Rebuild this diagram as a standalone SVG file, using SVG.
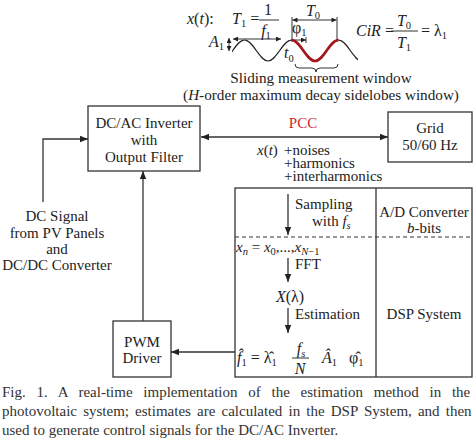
<svg xmlns="http://www.w3.org/2000/svg" width="474" height="444" viewBox="0 0 474 444" font-family="'Liberation Serif', 'Times New Roman', Tinos, 'DejaVu Serif', serif">
<style>
text{font-family:'Liberation Serif','Times New Roman',Tinos,'DejaVu Serif',serif;fill:#222;font-size:15px}
.c{text-anchor:middle}
.i{font-style:italic}
.s{font-size:10.5px}
.m{font-size:16px}
.ln{fill:none;stroke:#333;stroke-width:1.3}
.bx{fill:#fff;stroke:#333;stroke-width:1.3}
.thin{fill:none;stroke:#333;stroke-width:1}
.cap{font-size:15px;fill:#333}
</style>
<defs>
<marker id="ah" viewBox="0 0 10 10" refX="10" refY="5" markerWidth="9" markerHeight="8" markerUnits="userSpaceOnUse" orient="auto-start-reverse"><path d="M0,1 L10,5 L0,9 z" fill="#222"/></marker>
<marker id="sa" viewBox="0 0 10 10" refX="10" refY="5" markerWidth="6" markerHeight="5" markerUnits="userSpaceOnUse" orient="auto-start-reverse"><path d="M0,0 L10,5 L0,10 z" fill="#222"/></marker>
<clipPath id="wc"><rect x="232" y="30" width="126" height="40"/></clipPath>
</defs>

<g id="signal-sketch">
<text x="187" y="24" class="m"><tspan class="i">x</tspan>(<tspan class="i">t</tspan>):</text>
<text x="232" y="24" class="m"><tspan class="i">T</tspan><tspan class="s" dy="3">1</tspan><tspan dy="-3"> =</tspan></text>
<text x="268" y="15" class="m c">1</text>
<line x1="259" y1="20" x2="279" y2="20" class="thin"/>
<text x="266" y="36" class="m c"><tspan class="i">f</tspan><tspan class="s" dy="3">1</tspan></text>
<text x="313" y="16" class="m c"><tspan class="i">T</tspan><tspan class="s" dy="3">0</tspan></text>
<line x1="292" y1="17" x2="292" y2="42" class="thin"/>
<line x1="337" y1="17" x2="337" y2="42" class="thin"/>
<line x1="292.5" y1="20" x2="336.5" y2="20" class="thin" marker-start="url(#sa)" marker-end="url(#sa)"/>
<text x="292" y="33" class="m">φ<tspan class="s" dy="3">1</tspan></text>
<line x1="292.5" y1="40" x2="306" y2="40" class="thin" marker-end="url(#sa)"/>
<line x1="306" y1="37" x2="306" y2="43" class="thin"/>
<line x1="233" y1="39" x2="281" y2="39" class="thin" marker-start="url(#sa)" marker-end="url(#sa)"/>
<text x="209" y="47" class="m"><tspan class="i">A</tspan><tspan class="s" dy="3">1</tspan></text>
<line x1="229" y1="38" x2="229" y2="51" class="thin" marker-start="url(#sa)" marker-end="url(#sa)"/>
<path d="M221,61 C229.54,61 235.96,40 244.5,40 C253.04,40 259.46,61 268,61 C276.54,61 282.96,40 291.5,40 C300.04,40 306.46,61 315,61 C323.54,61 329.96,40 338.5,40 C347.04,40 353.46,61 362,61" fill="none" stroke="#222" stroke-width="1.2" clip-path="url(#wc)"/>
<path d="M291.5,40 C300.04,40 306.46,61 315,61 C323.54,61 329.96,40 338.5,40" fill="none" stroke="#a3161c" stroke-width="2.6"/>
<text x="284" y="58" class="m"><tspan class="i">t</tspan><tspan class="s" dy="4">0</tspan></text>
<path d="M295,64 Q295,68 299,68 L312,68 Q316,68 316,72 Q316,68 320,68 L334,68 Q338,68 338,64" class="thin"/>
<text x="356" y="36" class="m"><tspan class="i">CiR</tspan> =</text>
<text x="404" y="26" class="m c"><tspan class="i">T</tspan><tspan class="s" dy="3">0</tspan></text>
<line x1="391" y1="31" x2="418" y2="31" class="thin"/>
<text x="404" y="48" class="m c"><tspan class="i">T</tspan><tspan class="s" dy="3">1</tspan></text>
<text x="421" y="36" class="m">= λ<tspan class="s" dy="3">1</tspan></text>
<text x="321" y="83" class="c" style="font-size:15.2px">Sliding measurement window</text>
<text x="321" y="100" class="c" style="font-size:15.2px">(<tspan class="i">H</tspan>-order maximum decay sidelobes window)</text>
</g>

<g id="connectors">
<line x1="201" y1="137" x2="388" y2="137" class="ln" marker-start="url(#ah)" marker-end="url(#ah)"/>
<path d="M43,202 V139 H88" class="ln" marker-end="url(#ah)"/>
<path d="M143,321 V171" class="ln" marker-end="url(#ah)"/>
<path d="M235,352 H171" class="ln" marker-end="url(#ah)"/>
</g>

<g id="dcac-inverter">
<rect x="88" y="106" width="112" height="65" class="bx"/>
<text x="144" y="128" class="c">DC/AC Inverter</text>
<text x="144" y="145" class="c">with</text>
<text x="144" y="162" class="c">Output Filter</text>
</g>

<g id="grid">
<rect x="388" y="112" width="84" height="50" class="bx"/>
<text x="430" y="133" class="c">Grid</text>
<text x="430" y="150" class="c">50/60 Hz</text>
</g>

<g id="pcc">
<text x="303" y="128" class="c" style="fill:#d0262d">PCC</text>
<text x="257" y="155"><tspan class="i">x</tspan>(<tspan class="i">t</tspan>)</text>
<text x="284" y="155">+noises</text>
<text x="284" y="168">+harmonics</text>
<text x="284" y="181">+interharmonics</text>
</g>

<g id="dc-signal">
<text x="57" y="221" class="c">DC Signal</text>
<text x="57" y="238" class="c">from PV Panels</text>
<text x="57" y="254" class="c">and</text>
<text x="57" y="270" class="c">DC/DC Converter</text>
</g>

<g id="pwm-driver">
<rect x="113" y="321" width="58" height="56" class="bx"/>
<text x="142" y="347" class="c">PWM</text>
<text x="142" y="363" class="c">Driver</text>
</g>

<g id="dsp-system">
<rect x="235" y="188" width="237" height="189" class="bx"/>
<line x1="376" y1="188" x2="376" y2="377" class="ln"/>
<line x1="235" y1="237" x2="472" y2="237" class="ln" stroke-dasharray="4,3" style="stroke-width:1"/>
<line x1="288" y1="194" x2="288" y2="235" class="ln" marker-end="url(#ah)"/>
<text x="295" y="209">Sampling</text>
<text x="312" y="226">with <tspan class="i">f</tspan><tspan class="s i" dy="3">s</tspan></text>
<text x="424" y="217" class="c">A/D Converter</text>
<text x="424" y="233" class="c"><tspan class="i">b</tspan>-bits</text>
<text x="236" y="252"><tspan class="i">x</tspan><tspan class="s i" dy="3">n</tspan><tspan dy="-3"> = </tspan><tspan class="i">x</tspan><tspan class="s" dy="3">0</tspan><tspan dy="-3">,...,</tspan><tspan class="i">x</tspan><tspan class="s i" dy="3">N</tspan><tspan class="s">−1</tspan></text>
<line x1="288" y1="258" x2="288" y2="282" class="ln" marker-end="url(#ah)"/>
<text x="295" y="269">FFT</text>
<text x="290" y="302" class="c m"><tspan class="i">X</tspan>(λ)</text>
<line x1="288" y1="308" x2="288" y2="333" class="ln" marker-end="url(#ah)"/>
<text x="295" y="319">Estimation</text>
<text x="424" y="319" class="c">DSP System</text>
<text x="237" y="363" class="m"><tspan class="i">f&#770;</tspan><tspan class="s" dy="3">1</tspan><tspan dy="-3"> = λ&#770;</tspan><tspan class="s" dy="3">1</tspan></text>
<text x="301" y="354" class="c m"><tspan class="i">f</tspan><tspan class="s i" dy="3">s</tspan></text>
<line x1="292" y1="358" x2="309" y2="358" class="thin"/>
<text x="300" y="374" class="c m i">N</text>
<text x="322" y="363" class="m"><tspan class="i">A&#770;</tspan><tspan class="s" dy="3">1</tspan></text>
<text x="349" y="363" class="m">φ&#770;<tspan class="s" dy="3">1</tspan></text>
</g>

<g id="caption">
<text x="2" y="397" class="cap" style="word-spacing:7px">Fig. 1. A real-time implementation of the estimation method in the</text>
<text x="2" y="416" class="cap" style="word-spacing:2.4px">photovoltaic system; estimates are calculated in the DSP System, and then</text>
<text x="2" y="435" class="cap">used to generate control signals for the DC/AC Inverter.</text>
</g>
</svg>
